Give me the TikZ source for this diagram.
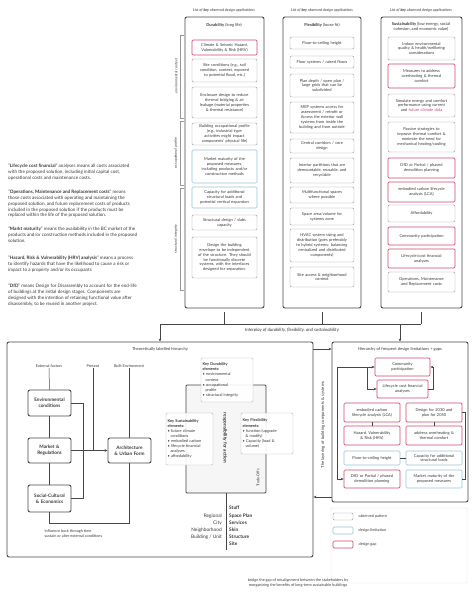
\documentclass[tikz,border=0pt]{standalone}
\usepackage{fontspec}
\setmainfont{Lato}
\usetikzlibrary{arrows.meta}
\hyphenpenalty=10000
\exhyphenpenalty=10000
\definecolor{pinkc}{RGB}{206,74,108}
\definecolor{bluec}{RGB}{150,195,212}
\definecolor{obsc}{RGB}{150,150,150}
\definecolor{darkc}{RGB}{70,70,70}
\definecolor{txt}{RGB}{55,55,55}
\newcommand{\myfs}[2]{\fontsize{#1}{#2}\selectfont}
\newcommand{\mybox}[7]{%
\pgfmathsetmacro{\bxw}{#5-#3-3}%
\pgfmathsetmacro{\bxh}{#6-#4}%
\pgfmathsetmacro{\bxcx}{(#3+#5)/2}%
\pgfmathsetmacro{\bxcy}{(#4+#6)/2}%
\node[#2, text width=\bxw pt, minimum height=\bxh pt] (#1) at (\bxcx,\bxcy) {#7};}
\tikzset{
 base/.style={rounded corners=1.2pt, line width=0.45pt, align=center, inner xsep=1.5pt, inner ysep=0.8pt, font=\myfs{4}{4.9}, text=txt},
 obs/.style={base, draw=obsc},
 gap/.style={base, draw=pinkc, line width=0.65pt},
 lim/.style={base, draw=bluec, line width=0.6pt},
 colbox/.style={base, draw=darkc, line width=0.9pt, rounded corners=2pt},
 hdr/.style={font=\myfs{3.8}{4.5}\itshape, text=txt, inner sep=0},
 ttl/.style={font=\myfs{4.1}{5}, text=txt, inner sep=0, align=center},
 defs/.style={anchor=north west, align=left, font=\myfs{4.6}{5.8}, text=txt, inner sep=0},
 ln/.style={draw=darkc, line width=0.5pt},
 brk/.style={draw=obsc, line width=0.4pt},
 arr/.style={ln, -{Stealth[length=3pt,width=2.6pt]}},
 drv/.style={base, draw=darkc, line width=0.9pt, rounded corners=2pt, font=\myfs{4.7}{5.7}\bfseries},
 keyb/.style={base, draw=obsc!70, fill=white, fill opacity=0.9, text opacity=1, align=left, font=\myfs{3.9}{5.1}},
 lbl/.style={font=\myfs{3.8}{4.6}, text=txt, inner sep=0.5pt},
 scl/.style={font=\myfs{4.8}{5.5}, text=txt, inner sep=0},
}
\begin{document}
\begin{tikzpicture}[x=1pt,y=-1pt]
\useasboundingbox (0,0) rectangle (474,596);
% ---------- top columns ----------
\node[hdr] (hd1) at (224,10) {List of \textbf{key} observed design applications};
\node[hdr] (hd2) at (322,10) {List of \textbf{key} observed design applications};
\node[hdr] (hd3) at (421,10) {List of \textbf{key} observed design applications};
\mybox{dcol}{colbox}{185}{17}{264}{308}{}
\mybox{fcol}{colbox}{283}{17}{361}{308}{}
\mybox{scol}{colbox}{381}{17}{462}{308}{}
\node[ttl] (dt) at (224,25) {\textbf{Durability} (long life)};
\node[ttl] (ft) at (322,25) {\textbf{Flexibility} (loose fit)};
\node[ttl] (st) at (421,27) {\textbf{Sustainability} (low energy, social\\cohesion, and economic value)};
% durability
\mybox{d1}{gap}{192}{40}{257}{55}{Climate \& Seismic Hazard,\\Vulnerability \& Risk (HRV)}
\mybox{d2}{obs}{192}{59}{257}{82}{Site conditions (e.g., soil\\condition, context, exposed\\to potential flood, etc.)}
\mybox{d3}{obs}{192}{87}{257}{118}{Enclosure design to reduce\\thermal bridging \& air\\leakage (material properties\\\& thermal resistance)}
\mybox{d4}{obs}{192}{123}{257}{145}{Building occupational profile\\(e.g., industrial type\\activities might impact\\components' physical life)}
\mybox{d5}{lim}{192}{150}{257}{183}{Market maturity of the\\proposed measures,\\including products and/or\\construction methods}
\mybox{d6}{lim}{192}{187}{257}{208}{Capacity for additional\\structural loads and\\potential vertical expansion}
\mybox{d7}{obs}{192}{215}{257}{230}{Structural design / slabs\\capacity}
\mybox{d8}{obs}{192}{237}{257}{278}{Design the building\\envelope to be independent\\of the structure. They should\\be functionally discrete\\systems, with the interfaces\\designed for separation.}
\draw[brk] (184,35) -- (180,35) -- (180,118) -- (184,118);
\node[lbl, rotate=90, font=\myfs{3.5}{4}] (ec) at (176,76) {environmental context};
\draw[brk] (184,121) -- (180,121) -- (180,185) -- (184,185);
\node[lbl, rotate=90, font=\myfs{3.5}{4}] (op) at (176,153) {occupational profile};
\draw[brk] (184,188) -- (180,188) -- (180,290) -- (184,290);
\node[lbl, rotate=90, font=\myfs{3.5}{4}] (si) at (176,239) {structural integrity};
% flexibility
\mybox{f1}{obs}{290}{37}{354}{49}{Floor-to-ceiling height}
\mybox{f2}{obs}{290}{56}{354}{68}{Floor systems / raised floors}
\mybox{f3}{obs}{290}{74}{354}{97}{Plan depth / open plan /\\large grids that can be\\subdivided}
\mybox{f4}{obs}{290}{102}{354}{133}{MEP systems access for\\assessment / retrofit or\\Access the exterior wall\\systems from inside the\\building and from outside}
\mybox{f5}{obs}{290}{139}{354}{153}{Central corridors / core\\design}
\mybox{f6}{obs}{290}{158}{354}{183}{Interior partitions that are\\demountable, reusable, and\\recyclable}
\mybox{f7}{obs}{290}{187}{354}{203}{Multifunctional spaces\\where possible}
\mybox{f8}{obs}{290}{208}{354}{225}{Space area/volume for\\systems zone}
\mybox{f9}{obs}{290}{229}{354}{262}{HVAC system sizing and\\distribution (goes preferably\\to hybrid systems: balancing\\centralized and distributed\\components)}
\mybox{f10}{obs}{290}{267}{354}{287}{Site access \& neighborhood\\context}
% sustainability
\mybox{s1}{obs}{388}{37}{455}{60}{Indoor environmental\\quality \& health/wellbeing\\considerations}
\mybox{s2}{gap}{388}{64}{455}{88}{Measures to address\\overheating \& thermal\\comfort}
\mybox{s3}{obs}{388}{94}{455}{117}{Simulate energy and comfort\\performance using current\\and {\color{pinkc}future climate data}}
\mybox{s4}{obs}{388}{122}{455}{152}{Passive strategies to\\improve thermal comfort \&\\minimize the need for\\mechanical heating/cooling}
\mybox{s5}{gap}{388}{158}{455}{178}{DfD or Partial / phased\\demolition planning}
\mybox{s6}{gap}{388}{182}{455}{202}{embodied carbon lifecycle\\analysis (LCA)}
\mybox{s7}{obs}{388}{205}{455}{222}{Affordability}
\mybox{s8}{gap}{388}{227}{455}{245}{Community participation}
\mybox{s9}{gap}{388}{249}{455}{268}{Lifecycle/cost financial\\analyses}
\mybox{s10}{obs}{388}{272}{455}{292}{Operations, Maintenance\\and Replacement costs}
% ---------- definitions ----------
\node[defs] (def1) at (8,164) {"\textbf{Lifecycle cost financial}" analyses means all costs associated\\with the proposed solution, including initial capital cost,\\operational costs and maintenance costs.};
\node[defs] (def2) at (8,190) {"\textbf{Operations, Maintenance and Replacement costs}" means\\those costs associated with operating and maintaining the\\proposed solution, and future replacement costs of products\\included in the proposed solution if the products must be\\replaced within the life of the proposed solution.};
\node[defs] (def3) at (8,227) {"\textbf{Markt maturity}" means the availability in the BC market of the\\products and/or construction methods included in the proposed\\solution.};
\node[defs] (def4) at (8,256) {"\textbf{Hazard, Risk \& Vulnerability (HRV) analysis}" means a process\\to identify hazards that have the likelihood to cause a risk or\\impact to a property and/or its occupants};
\node[defs] (def5) at (8,284) {"\textbf{DfD}" means Design for Disassembly to account for the end-life\\of buildings at the initial design stages. Components are\\designed with the intention of retaining functional value after\\disassembly, to be reused in another project.};
% ---------- lower boxes ----------
\mybox{lbox}{colbox}{7}{342}{313}{557}{}
\mybox{rbox}{colbox}{332}{342}{468}{502}{}
\node[ttl] (lt) at (160,349) {Theoretically labelled hierarchy};
\node[ttl] (rt) at (400,349) {Hierarchy of frequent design limitations + gaps};
\node[lbl, font=\myfs{4.5}{5}\itshape] (ip) at (292,330) {Interplay of durability, flexibility, and sustainability};
% left diagram
\node[lbl] (ext) at (49,366) {External factors};
\node[lbl] (pres) at (93,366) {Present};
\node[lbl] (built) at (129,366) {Built Environment};
\mybox{env}{drv}{28}{390}{71}{416}{Environmental\\conditions}
\mybox{mkt}{drv}{28}{438}{71}{463}{Market \&\\Regulations}
\mybox{soc}{drv}{28}{485}{71}{512}{Social-Cultural\\\& Economics}
\mybox{arch}{drv}{108}{438}{151}{463}{Architecture\\\& Urban Form}
\node[lbl, anchor=north west, align=left] (infl) at (44,529) {Influence back through time\\sustain or alter external conditions};
% middle cluster
\mybox{frame}{base, draw=darkc, line width=0.8pt, fill=gray!7, rounded corners=1pt}{186}{385}{266}{493}{}
\node[font=\myfs{4.8}{5.5}\bfseries, rotate=-90, text=txt, inner sep=0] (resp) at (225,438) {responsibility for action};
\node[lbl, rotate=90] (trade) at (258,478) {Trade-Offs};
\mybox{kd}{keyb}{201}{358}{253}{402}{\textbf{Key Durability}\\\textbf{elements:}\\\textbullet\ environmental\\\hspace*{3pt}context\\\textbullet\ occupational\\\hspace*{3pt}profile\\\textbullet\ structural integrity}
\mybox{ks}{keyb}{166}{413}{213}{465}{\textbf{Key Sustainability}\\\textbf{elements:}\\\textbullet\ future climate\\\hspace*{3pt}conditions\\\textbullet\ embodied carbon\\\textbullet\ lifecycle financial\\\hspace*{3pt}analyses\\\textbullet\ affordability}
\mybox{kf}{keyb}{241}{413}{293}{454}{\textbf{Key Flexibility}\\\textbf{elements:}\\\textbullet\ function (upgrade\\\hspace*{3pt}\& modify)\\\textbullet\ Capacity (load \&\\\hspace*{3pt}volume)}
\coordinate (sb) at (226,550);
\node[scl, anchor=east] (sc1) at (222,516) {Regional};
\node[scl, anchor=east] (sc2) at (222,523) {City};
\node[scl, anchor=east] (sc3) at (222,530) {Neighborhood};
\node[scl, anchor=east] (sc4) at (222,537) {Building / Unit};
\node[scl, anchor=west, font=\myfs{4.8}{5.5}\bfseries] (l1) at (229,508) {Stuff};
\node[scl, anchor=west, font=\myfs{4.8}{5.5}\bfseries] (l2) at (229,516) {Space Plan};
\node[scl, anchor=west, font=\myfs{4.8}{5.5}\bfseries] (l3) at (229,523) {Services};
\node[scl, anchor=west, font=\myfs{4.8}{5.5}\bfseries] (l4) at (229,530) {Skin};
\node[scl, anchor=west, font=\myfs{4.8}{5.5}\bfseries] (l5) at (229,537) {Structure};
\node[scl, anchor=west, font=\myfs{4.8}{5.5}\bfseries] (l6) at (229,544) {Site};
\node[lbl, rotate=90, font=\myfs{4.2}{5}] (layer) at (323,425) {The layering of building components \& systems};
% right diagram
\mybox{cp}{gap}{375}{358}{430}{376}{Community\\participation}
\mybox{lc}{gap}{377}{380}{428}{398}{Lifecycle cost financial\\analyses}
\mybox{ec2}{gap}{344}{403}{400}{422}{embodied carbon\\lifecycle analysis (LCA)}
\mybox{d30}{gap}{406}{403}{462}{422}{Design for 2030 and\\plan for 2050}
\mybox{hrv}{gap}{344}{426}{400}{445}{Hazard, Vulnerability\\\& Risk (HRV)}
\mybox{oh}{gap}{406}{426}{462}{445}{address overheating \&\\thermal comfort}
\mybox{fc}{lim}{344}{451}{400}{465}{Floor-to-ceiling height}
\mybox{ca}{lim}{406}{451}{462}{465}{Capacity for additional\\structural loads}
\mybox{dfd}{gap}{344}{470}{400}{488}{DfD or Partial / phased\\demolition planning}
\mybox{mm}{lim}{406}{470}{462}{488}{Market maturity of the\\proposed measures}
% legend
\mybox{lg}{base, draw=gray!25, rounded corners=1pt}{331}{508}{467}{583}{}
\mybox{lg1}{obs}{333}{513}{353}{520}{}
\mybox{lg2}{lim}{333}{527}{353}{534}{}
\mybox{lg3}{gap}{333}{541}{353}{548}{}
\node[lbl, anchor=west] (lgt1) at (358,516.5) {observed pattern};
\node[lbl, anchor=west] (lgt2) at (358,530.5) {design limitation};
\node[lbl, anchor=west] (lgt3) at (358,544.5) {design gap};
\node[lbl, font=\myfs{3.8}{4.9}, align=center] (cap) at (298,582.5) {bridge the gap of misalignment between the stakeholders by\\reorganizing the benefits of long-term sustainable buildings};
% ---------- connectors ----------
\coordinate (jl) at (160,324);
\coordinate (jr) at (421,324);
\draw[ln] (jl) -- (jr);
\draw[ln] ([yshift=-4pt]dcol.south) -- (dcol.south |- jl);
\draw[ln] ([yshift=-4pt]fcol.south) -- (fcol.south |- jl);
\draw[ln] ([yshift=-4pt]scol.south) -- (scol.south |- jl);
\draw[arr] (jl) -- (lbox.north -| jl);
\draw[arr] (rbox.north |- jl) -- (rbox.north);
\draw[arr] (lbox.east |- lt) -- (rbox.west |- lt);
\coordinate (fb) at (322,497);
\draw[arr] (rbox.west |- fb) -- (lbox.east |- fb);
\draw[ln] (ext.south) -- (env.north);
\draw[ln] (env.south) -- (mkt.north);
\draw[ln] (mkt.south) -- (soc.north);
\draw[ln] (env.east) -- ++(12,0) |- (soc.east);
\draw[arr] (mkt.east) -- (arch.west);
\draw[ln] (pres.south) -- (pres.south |- mkt.east);
\draw[ln] (built.south) -- (built.south |- arch.north);
\draw[ln] (soc.south) -- ++(0,11) -| (arch.south);
\draw[ln] (frame.south) -- (sb);
\coordinate (lk) at (337,367);
\draw[arr] (lk) -- (cp.west);
\draw[arr] (lk) |- (dfd.west);
\draw[arr] ([xshift=-7pt]cp.west) |- (lc.west);
\draw[arr] (lc.east) -- ++(5,0) |- (cp.east);
\draw[ln] (ec2.south) -- (hrv.north);
\draw[ln] (d30.south) -- (oh.north);
\draw[ln] (fc.east) -- (ca.west);
\draw[ln] (d30.east) -- ++(3,0) |- (mm.east);
\end{tikzpicture}
\end{document}
